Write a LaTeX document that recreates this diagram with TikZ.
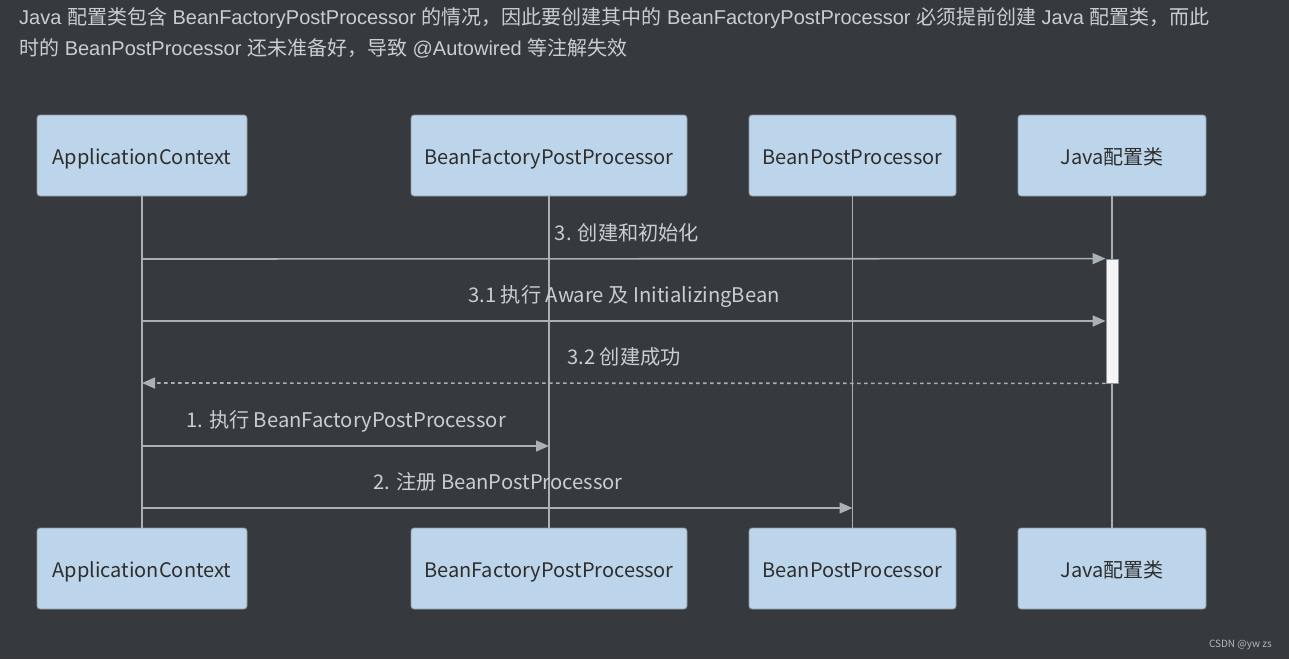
\documentclass[tikz,border=0pt]{standalone}
\usepackage{fontspec}
\setmainfont{Noto Sans CJK SC}
\newfontfamily\cjk{Noto Sans CJK SC}
\newfontfamily\arialfont{Liberation Sans}
\usetikzlibrary{arrows.meta}
\definecolor{bg}{HTML}{363A3F}
\definecolor{boxfill}{HTML}{BDD5EA}
\definecolor{boxline}{HTML}{8E969E}
\definecolor{ln}{HTML}{A9B0B8}
\definecolor{lbl}{HTML}{C9CED4}
\definecolor{boxtxt}{HTML}{2E2E2E}
\definecolor{act}{HTML}{F5F5F5}
\tikzset{
  actor/.style={draw=boxline, fill=boxfill, rounded corners=3pt, line width=0.8pt,
    minimum height=81pt, text=boxtxt, font=\fontsize{20}{24}\selectfont, inner sep=0pt,
    text height=20pt, text depth=3pt},
  life/.style={draw=ln, line width=1.6pt},
  msg/.style={draw=ln, line width=1.6pt, -{Triangle[length=13pt,width=11pt]}},
  reply/.style={msg, dash pattern=on 3.5pt off 3.5pt},
  mlabel/.style={text=lbl, font=\fontsize{20.2}{22}\selectfont, anchor=base},
  toptext/.style={anchor=base west, text=lbl, inner sep=0pt, font=\arialfont\fontsize{20}{24}\selectfont},
}
\begin{document}
\begin{tikzpicture}[x=1pt,y=-1pt]
\fill[bg] (0,0) rectangle (1289,659);
\useasboundingbox (0,0) rectangle (1289,659);

% top text
\node[toptext] (t1) at (19,24)
  {Java {\cjk 配置类包含} BeanFactoryPostProcessor {\cjk 的情况，因此要创建其中的} BeanFactoryPostProcessor {\cjk 必须提前创建} Java {\cjk 配置类，而此}};
\node[toptext] (t2) at (19,55)
  {{\cjk 时的} BeanPostProcessor {\cjk 还未准备好，导致} @Autowired {\cjk 等注解失效}};

% actors top
\node[actor, minimum width=210pt] (a1) at (142,155.5) {ApplicationContext};
\node[actor, minimum width=276pt] (a2) at (549,155.5) {BeanFactoryPostProcessor};
\node[actor, minimum width=207pt] (a3) at (852.5,155.5) {BeanPostProcessor};
\node[actor, minimum width=188pt] (a4) at (1112,155.5) {Java配置类};
% actors bottom
\node[actor, minimum width=210pt] (b1) at (142,568.5) {ApplicationContext};
\node[actor, minimum width=276pt] (b2) at (549,568.5) {BeanFactoryPostProcessor};
\node[actor, minimum width=207pt] (b3) at (852.5,568.5) {BeanPostProcessor};
\node[actor, minimum width=188pt] (b4) at (1112,568.5) {Java配置类};

% lifelines
\draw[life] (a1.south) -- (b1.north);
\draw[life] (a2.south) -- (b2.north);
\draw[life] (a3.south) -- (b3.north);
\draw[life] (a4.south) -- (b4.north);

% activation
\node[draw=boxline, fill=act, line width=0.8pt, minimum width=12pt, minimum height=124pt, inner sep=0pt] (act) at (1112,321) {};

% coordinates on lifelines
\coordinate (m3s) at (142,259);
\coordinate (m31s) at (142,321);
\coordinate (m32e) at (142,383);
\coordinate (m1s) at (142,446);
\coordinate (m1e) at (549,446);
\coordinate (m2s) at (142,508);
\coordinate (m2e) at (852.5,508);

\draw[msg] (m3s) -- (act.north west);
\node[mlabel] (l3) at (627,240) {3. 创建和初始化};
\draw[msg] (m31s) -- (act.west);
\node[mlabel] (l31) at (624,302) {3.1 执行 Aware 及 InitializingBean};
\draw[reply] (act.south west) -- (m32e);
\node[mlabel] (l32) at (624,364) {3.2 创建成功};
\draw[msg] (m1s) -- (m1e);
\node[mlabel] (l1) at (346,427) {1. 执行 BeanFactoryPostProcessor};
\draw[msg] (m2s) -- (m2e);
\node[mlabel] (l2) at (498,489) {2. 注册 BeanPostProcessor};

\node[anchor=base east, text=lbl!85!bg, inner sep=0pt, font=\fontsize{10}{12}\selectfont] (wm) at (1272,647) {CSDN @yw zs};
\end{tikzpicture}
\end{document}
